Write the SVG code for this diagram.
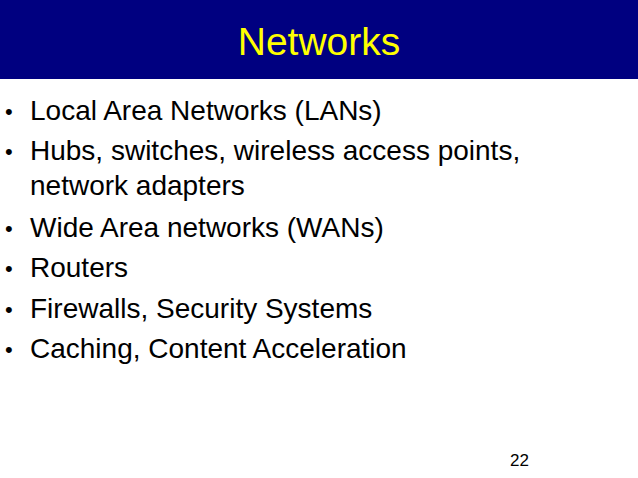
<svg xmlns="http://www.w3.org/2000/svg" width="638" height="478" viewBox="0 0 638 478">
<style>
.b{font-family:"Liberation Sans",Arial,sans-serif;font-size:28px;fill:#000}
.d{font-family:"Liberation Sans",Arial,sans-serif;font-size:22px;fill:#000}
</style>
<rect width="638" height="478" fill="#fff"/>
<g id="header"><rect x="0" y="0" width="638" height="79" fill="#000080"/>
<text x="319" y="55" text-anchor="middle" font-family="Liberation Sans,Arial,sans-serif" font-size="39" fill="#ffff00">Networks</text></g>
<g id="bullets">
<text x="5" y="119" class="d">•</text><text x="30" y="120" class="b">Local Area Networks (LANs)</text>
<text x="5" y="159" class="d">•</text><text x="30" y="160" class="b">Hubs, switches, wireless access points,</text>
<text x="30" y="195" class="b">network adapters</text>
<text x="5" y="236" class="d">•</text><text x="30" y="237" class="b">Wide Area networks (WANs)</text>
<text x="5" y="276" class="d">•</text><text x="30" y="277" class="b">Routers</text>
<text x="5" y="317" class="d">•</text><text x="30" y="318" class="b">Firewalls, Security Systems</text>
<text x="5" y="357" class="d">•</text><text x="30" y="358" class="b">Caching, Content Acceleration</text>
</g>
<text id="page" x="510" y="466" font-family="Liberation Sans,Arial,sans-serif" font-size="17" fill="#000">22</text>
</svg>
